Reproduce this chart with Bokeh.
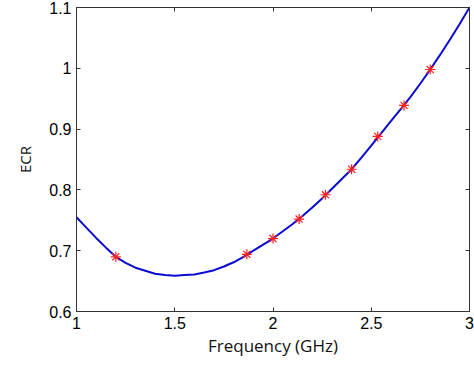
from bokeh.plotting import figure
from bokeh.models import LinearAxis, FixedTicker, Range1d
from bokeh.embed import file_html
from bokeh.resources import INLINE

# Fitted curve
curve_freq = [1.0, 1.05, 1.1, 1.15, 1.2, 1.25, 1.3, 1.35, 1.4, 1.45, 1.5,
              1.55, 1.6, 1.65, 1.7, 1.75, 1.8, 1.85, 1.9, 1.95, 2.0,
              2.05, 2.1, 2.15, 2.2, 2.25, 2.3, 2.35, 2.4, 2.45, 2.5,
              2.55, 2.6, 2.65, 2.7, 2.75, 2.8, 2.85, 2.9, 2.95, 3.0]
curve_ecr = [0.755, 0.738, 0.721, 0.705, 0.690, 0.680, 0.672, 0.667, 0.662, 0.660, 0.659,
             0.660, 0.661, 0.664, 0.668, 0.674, 0.681, 0.690, 0.700, 0.710, 0.720,
             0.732, 0.744, 0.757, 0.771, 0.786, 0.802, 0.818, 0.834, 0.853, 0.873,
             0.893, 0.913, 0.933, 0.953, 0.975, 0.998, 1.022, 1.047, 1.073, 1.100]

# Measured points
meas_freq = [1.2, 1.867, 2.0, 2.133, 2.267, 2.4, 2.533, 2.667, 2.8]
meas_ecr = [0.690, 0.694, 0.720, 0.752, 0.792, 0.834, 0.888, 0.939, 0.998]

x_ticks = [1, 1.5, 2, 2.5, 3]
y_ticks = [0.6, 0.7, 0.8, 0.9, 1.0, 1.1]

p = figure(width=474, height=379, output_backend="svg", toolbar_location=None,
           x_range=Range1d(1, 3), y_range=Range1d(0.6, 1.1),
           x_axis_label="Frequency (GHz)", y_axis_label="ECR",
           min_border_left=76, min_border_right=5, min_border_top=7, min_border_bottom=68)

p.grid.visible = False
p.background_fill_color = "white"
p.border_fill_color = "white"
p.outline_line_color = "#333333"
p.outline_line_width = 1

p.line(curve_freq, curve_ecr, line_color="#0a0ad0", line_width=2)
p.scatter(meas_freq, meas_ecr, marker="asterisk", size=10, line_color="#ff2020", line_width=1.2)

FONT = "Liberation Sans"

def style_axis(ax, labels=True):
    ax.axis_line_color = "#333333"
    ax.major_tick_line_color = "#333333"
    ax.major_tick_in = 4
    ax.major_tick_out = 0
    ax.minor_tick_line_color = None
    ax.major_label_text_font = FONT
    ax.major_label_text_font_size = "16px"
    ax.major_label_text_color = "#000000"
    if not labels:
        ax.major_label_text_font_size = "0px"
        ax.major_label_text_color = None
        ax.major_label_standoff = 0

style_axis(p.xaxis[0])
style_axis(p.yaxis[0])
p.xaxis[0].ticker = FixedTicker(ticks=x_ticks)
p.yaxis[0].ticker = FixedTicker(ticks=y_ticks)
p.xaxis[0].major_label_standoff = 5
p.yaxis[0].major_label_standoff = 5
p.xaxis[0].axis_label_text_font = "Open Sans"
p.xaxis[0].axis_label_text_font_style = "normal"
p.xaxis[0].axis_label_text_font_size = "17px"
p.xaxis[0].axis_label_text_color = "#111111"
p.xaxis[0].axis_label_standoff = 2
p.yaxis[0].axis_label_text_font = "Open Sans"
p.yaxis[0].axis_label_text_font_style = "normal"
p.yaxis[0].axis_label_text_font_size = "15px"
p.yaxis[0].axis_label_text_color = "#111111"
p.yaxis[0].axis_label_standoff = 11

top = LinearAxis(ticker=FixedTicker(ticks=x_ticks))
right = LinearAxis(ticker=FixedTicker(ticks=y_ticks))
style_axis(top, labels=False)
style_axis(right, labels=False)
p.add_layout(top, "above")
p.add_layout(right, "right")

open("out.html", "w").write(file_html(p, INLINE))
